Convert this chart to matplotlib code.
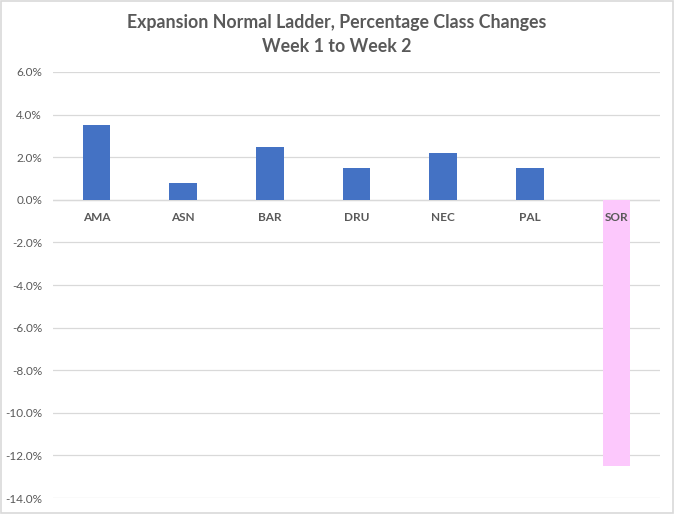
import numpy as np
import matplotlib.pyplot as plt
import matplotlib.transforms as mtransforms

# Dati: variazione percentuale delle classi, settimana 1 -> settimana 2
classes = ['AMA', 'ASN', 'BAR', 'DRU', 'NEC', 'PAL', 'SOR']
changes = [3.5, 0.8, 2.5, 1.5, 2.2, 1.5, -12.5]
bar_colors = ['#4472c4'] * 6 + ['#fcc8fc']
yticks = np.arange(-14, 7, 2)

plt.rcParams['font.family'] = ['Lato', 'DejaVu Sans']

fig = plt.figure(figsize=(6.74, 5.14), dpi=100)
ax = fig.add_axes([0.079, 0.031, 0.900, 0.829])

x = np.arange(len(classes))
ax.bar(x, changes, width=0.32, color=bar_colors, zorder=2)

ax.set_xlim(-0.5, len(classes) - 0.5)
ax.set_ylim(-14, 6)
ax.set_yticks(yticks)
# trattino semplice al posto del segno meno unicode
ax.set_yticklabels([('%.1f%%' % v).replace('\u2212', '-') for v in yticks],
                   fontsize=8.5, color='#595959')
ax.tick_params(axis='y', length=0, pad=8)
ax.set_xticks([])
ax.grid(axis='y', color='#d9d9d9', linewidth=0.9, zorder=0)
ax.axhline(0, color='#d9d9d9', linewidth=0.9, zorder=1)
for s in ax.spines.values():
    s.set_visible(False)

# etichette categorie sotto la linea dello zero
trans = ax.transData + mtransforms.ScaledTranslation(0, -13 / 72, fig.dpi_scale_trans)
for xi, name in zip(x, classes):
    ax.text(xi, 0, name, transform=trans, ha='center', va='center',
            fontsize=8.5, fontweight='bold', color='#595959', zorder=3)

fig.suptitle('Expansion Normal Ladder, Percentage Class Changes\nWeek 1 to Week 2',
             y=0.972, fontsize=12.8, fontweight='bold', color='#595959', linespacing=1.45)

# cornice del grafico
fig.patches.append(plt.Rectangle((0.002, 0.002), 0.996, 0.996, transform=fig.transFigure,
                                 fill=False, edgecolor='#d9d9d9', linewidth=1.2))

fig.savefig('out.png', dpi=100)
